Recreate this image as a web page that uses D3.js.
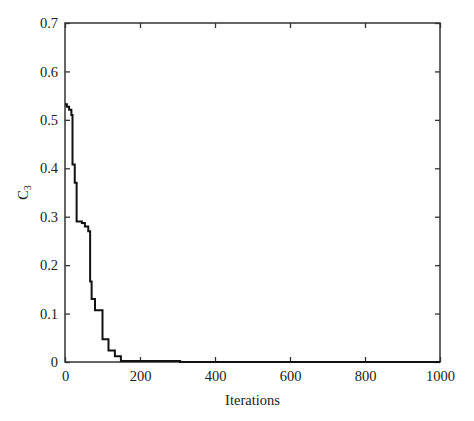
<!DOCTYPE html>
<html><head><meta charset="utf-8">
<script src="https://cdn.jsdelivr.net/npm/d3@7"></script>
<style>body{margin:0;background:#fff}svg{display:block}text{font-family:"Liberation Serif","DejaVu Serif",serif;fill:#222}</style>
</head><body>
<svg id="c" width="474" height="421"></svg>
<script>
const iterations = [0, 5, 11, 17, 20, 26, 31, 45, 53, 62, 67, 71, 80, 100, 116, 133, 149, 307, 1000];
const c3Values = [0.532, 0.527, 0.521, 0.510, 0.408, 0.370, 0.290, 0.287, 0.280, 0.270, 0.166, 0.130, 0.107, 0.047, 0.024, 0.012, 0.002, 0.0, 0.0];
const xTicks = [0, 200, 400, 600, 800, 1000];
const yTicks = [0, 0.1, 0.2, 0.3, 0.4, 0.5, 0.6, 0.7];

const m = {l: 65, r: 34, t: 23, b: 59};
const W = 474, H = 421;
const svg = d3.select("#c");
const x = d3.scaleLinear().domain([0, 1000]).range([m.l, W - m.r]);
const y = d3.scaleLinear().domain([0, 0.7]).range([H - m.b, m.t]);
const axCol = "#333";

function style(g){ g.select(".domain").remove(); g.selectAll("line").attr("stroke", axCol).attr("stroke-width", 1.3); g.selectAll("text").attr("font-size", 14.5).attr("fill", "#222"); }

svg.append("g").attr("transform", `translate(0,${y(0)})`)
  .call(d3.axisBottom(x).tickValues(xTicks).tickSize(-5).tickPadding(9).tickFormat(d3.format("d")))
  .call(style);
svg.append("g").attr("transform", `translate(0,${y(0.7)})`)
  .call(d3.axisTop(x).tickValues(xTicks).tickSize(-5).tickFormat(""))
  .call(style);
svg.append("g").attr("transform", `translate(${x(0)},0)`)
  .call(d3.axisLeft(y).tickValues(yTicks).tickSize(-5).tickPadding(7).tickFormat(d => d === 0 ? "0" : d3.format(".1f")(d)))
  .call(style);
svg.append("g").attr("transform", `translate(${x(1000)},0)`)
  .call(d3.axisRight(y).tickValues(yTicks).tickSize(-5).tickFormat(""))
  .call(style);

svg.append("rect").attr("x", x(0)).attr("y", y(0.7)).attr("width", x(1000) - x(0)).attr("height", y(0) - y(0.7))
  .attr("fill", "none").attr("stroke", axCol).attr("stroke-width", 1.5);

const pts = iterations.map((d, i) => [d, c3Values[i]]);
svg.append("path").datum(pts)
  .attr("d", d3.line().x(d => x(d[0])).y(d => y(d[1])).curve(d3.curveStepAfter))
  .attr("fill", "none").attr("stroke", "#111").attr("stroke-width", 2);

svg.append("text").attr("x", (x(0) + x(1000)) / 2).attr("y", 405).attr("text-anchor", "middle").attr("font-size", 14.5).text("Iterations");
const yl = svg.append("text").attr("transform", `translate(28,${(y(0) + y(0.7)) / 2}) rotate(-90)`).attr("text-anchor", "middle").attr("font-size", 14.5);
yl.append("tspan").text("C");
yl.append("tspan").attr("font-size", 10).attr("dy", 3).text("3");
</script>
</body></html>
